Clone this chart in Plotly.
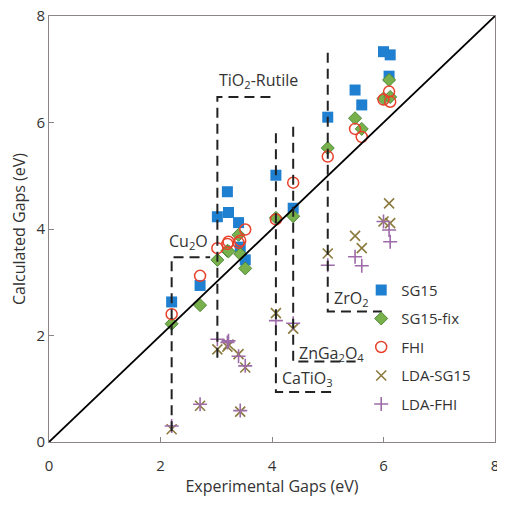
import plotly.graph_objects as go

# experimental band gaps (eV), one per material
exp_gap = [2.2, 2.71, 3.02, 3.2, 3.22, 3.4, 3.43, 3.52, 4.07, 4.38, 5.0, 5.49, 5.61, 6.0, 6.1, 6.12]

# calculated gaps (eV)
sg15 = [2.63, 2.94, 4.23, 4.70, 4.31, 4.12, 3.66, 3.42, 5.01, 4.39, 6.10, 6.61, 6.33, 7.33, 6.87, 7.27]
sg15_fix = [2.22, 2.57, 3.42, 3.59, 3.58, 3.89, 3.53, 3.26, 4.21, 4.24, 5.52, 6.08, 5.88, 6.45, 6.80, 6.48]
fhi = [2.40, 3.12, 3.64, 3.72, 3.76, 3.74, 3.78, 3.99, 4.18, 4.87, 5.36, 5.88, 5.73, 6.43, 6.58, 6.39]
lda_sg15 = [0.24, 0.68, 1.74, 1.79, 1.83, 1.65, 0.57, 1.40, 2.42, 2.13, 3.54, 3.87, 3.64, 4.14, 4.48, 4.11]
lda_fhi = [0.30, 0.71, 1.93, 1.87, 1.90, 1.61, 0.59, 1.43, 2.28, 2.23, 3.32, 3.48, 3.31, 4.14, 3.98, 3.76]

# y = x reference line
ref_line = [0, 8]

# material labels with dashed brackets
label_text = ["Cu<sub>2</sub>O", "TiO<sub>2</sub>-Rutile", "CaTiO<sub>3</sub>", "ZnGa<sub>2</sub>O<sub>4</sub>", "ZrO<sub>2</sub>"]
bracket_x = [2.2, 3.02, 4.07, 4.38, 5.0]
bracket_y0 = [0.2, 1.58, 5.8, 5.92, 7.31]
bracket_y1 = [3.47, 6.48, 0.94, 1.51, 2.45]
bracket_xend = [2.89, 4.02, 5.07, 5.5, 5.97]
label_x = [2.12, 3.02, 4.15, 4.44, 5.08]
label_y = [3.76, 6.78, 1.20, 1.67, 2.70]

fig = go.Figure()

fig.add_trace(go.Scatter(x=exp_gap, y=sg15, mode="markers", name="SG15", legendgroup="a",
                         marker=dict(symbol="square", size=11, color="#1f7fd0")))
fig.add_trace(go.Scatter(x=exp_gap, y=sg15_fix, mode="markers", name="SG15-fix", legendgroup="b",
                         marker=dict(symbol="diamond", size=10, color="#78b04c",
                                     line=dict(color="#4f8a3a", width=1))))
fig.add_trace(go.Scatter(x=exp_gap, y=fhi, mode="markers", name="FHI", legendgroup="c",
                         marker=dict(symbol="circle-open", size=11, color="#e8412c",
                                     line=dict(color="#e8412c", width=1.5))))
fig.add_trace(go.Scatter(x=exp_gap, y=lda_sg15, mode="markers", name="LDA-SG15", legendgroup="d",
                         marker=dict(symbol="x-thin-open", size=10, color="#8c7a3e",
                                     line=dict(color="#8c7a3e", width=1.6))))
fig.add_trace(go.Scatter(x=exp_gap, y=lda_fhi, mode="markers", name="LDA-FHI", legendgroup="e",
                         marker=dict(symbol="cross-thin-open", size=10, color="#9d6ba8",
                                     line=dict(color="#9d6ba8", width=1.6))))

fig.add_trace(go.Scatter(x=ref_line, y=ref_line, mode="lines", showlegend=False,
                         line=dict(color="black", width=1.8), hoverinfo="skip"))

for i in range(len(label_text)):
    fig.add_trace(go.Scatter(x=[bracket_x[i], bracket_x[i], bracket_xend[i]],
                             y=[bracket_y0[i], bracket_y1[i], bracket_y1[i]],
                             mode="lines", showlegend=False, hoverinfo="skip",
                             line=dict(color="#222222", width=2, dash="10px,6px")))
    fig.add_annotation(x=label_x[i], y=label_y[i], text=label_text[i], showarrow=False,
                       xanchor="left", yanchor="middle",
                       font=dict(size=16, color="#333333"))

axis_style = dict(range=[0, 8], dtick=2, showgrid=False, zeroline=False,
                  showline=True, linecolor="#8c8585", linewidth=1, mirror=True,
                  ticks="inside", ticklen=5, tickcolor="#8c8585", automargin=False,
                  ticklabeloverflow="allow",
                  tickfont=dict(size=15, color="#333333"))

fig.update_xaxes(title=dict(text="Experimental Gaps (eV)", font=dict(size=16, color="#333333"), standoff=4),
                 ticklabelstandoff=10, **axis_style)
fig.update_yaxes(title=dict(text="Calculated Gaps (eV)", font=dict(size=16, color="#333333"), standoff=8),
                 **axis_style)

fig.update_layout(
    width=505, height=505,
    margin=dict(l=41, r=18, t=8, b=71),
    plot_bgcolor="white", paper_bgcolor="white",
    font=dict(family="Open Sans, sans-serif", color="#333333"),
    legend=dict(x=0.70, y=0.395, xanchor="left", yanchor="top",
                font=dict(size=15, color="#333333"), bgcolor="rgba(0,0,0,0)",
                tracegroupgap=6, itemwidth=30),
)

fig.write_html("out.html")
